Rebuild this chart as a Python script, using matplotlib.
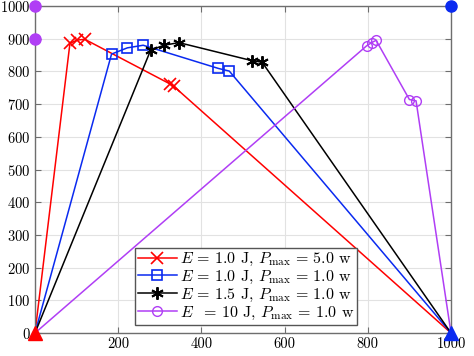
import numpy as np
import matplotlib
matplotlib.use('Agg')
import matplotlib.pyplot as plt

plt.rcParams['font.family'] = 'serif'
plt.rcParams['font.serif'] = ['cmr10']
plt.rcParams['mathtext.fontset'] = 'cm'
plt.rcParams['axes.unicode_minus'] = False
plt.rcParams['axes.formatter.use_mathtext'] = True

# series data
x_red = [0, 84, 102, 120, 324, 334, 1000]
y_red = [0, 886, 896, 898, 762, 754, 0]
x_blue = [0, 184, 222, 260, 441, 467, 1000]
y_blue = [0, 853, 872, 880, 809, 801, 0]
x_black = [0, 278, 310, 346, 521, 546, 1000]
y_black = [0, 865, 880, 888, 833, 828, 0]
x_mag = [0, 797, 809, 820, 900, 916, 1000]
y_mag = [0, 878, 888, 895, 714, 710, 0]

labels = [r'$E\,=\,1.0$ J, $P_{\max}\,=\,5.0$ w',
          r'$E\,=\,1.0$ J, $P_{\max}\,=\,1.0$ w',
          r'$E\,=\,1.5$ J, $P_{\max}\,=\,1.0$ w',
          r'$E\ \ =\,10$ J, $P_{\max}\,=\,1.0$ w']

# special points
mag_pts_x = [0, 0]
mag_pts_y = [1000, 900]
blue_pt = (1000, 1000)
red_tri = (0, 0)
blue_tri = (1000, 0)

c_red = '#ff0000'
c_blue = '#0a2af0'
c_black = 'black'
c_mag = '#b03ef5'

fig = plt.figure(figsize=(4.74, 3.56), dpi=100)
ax = fig.add_axes([35/474, 1 - 333/356, 416/474, 327/356])

n = len(x_red)
ax.plot(x_red, y_red, color=c_red, lw=1.1, marker='x', ms=8, mew=1.2,
        markevery=list(range(1, n - 1)), label=labels[0])
ax.plot(x_blue, y_blue, color=c_blue, lw=1.1, marker='s', ms=7, mfc='none', mew=1.2,
        markevery=list(range(1, n - 1)), label=labels[1])
ax.plot(x_black, y_black, color=c_black, lw=1.1, marker=(6, 2, 0), ms=9, mew=1.4,
        markevery=list(range(1, n - 1)), label=labels[2])
ax.plot(x_mag, y_mag, color=c_mag, lw=1.1, marker='o', ms=7, mfc='none', mew=1.0,
        markevery=list(range(1, n - 1)), label=labels[3])

ax.plot(mag_pts_x, mag_pts_y, 'o', color=c_mag, ms=8, clip_on=False, zorder=5)
ax.plot(*blue_pt, 'o', color=c_blue, ms=8, clip_on=False, zorder=5)
ax.plot(*red_tri, '^', color=c_red, ms=10, clip_on=False, zorder=5)
ax.plot(*blue_tri, '^', color=c_blue, ms=10, clip_on=False, zorder=5)

ax.set_xlim(0, 1000)
ax.set_ylim(0, 1000)
ax.set_xticks([0, 200, 400, 600, 800, 1000])
ax.set_xticklabels(['', '200', '400', '600', '800', '1000'])
ax.set_yticks(np.arange(0, 1001, 100))
ax.grid(True, color='#e2e2e2', lw=0.8)
ax.set_axisbelow(True)
for s in ax.spines.values():
    s.set_color('#6e6e6e')
    s.set_linewidth(1.0)
ax.tick_params(direction='in', top=True, right=True, length=4, color='#6e6e6e',
               labelsize=10.5, pad=3)

leg = ax.legend(loc='lower left', bbox_to_anchor=(100/416, 8/327), fontsize=11.5,
                frameon=True, fancybox=False, edgecolor='#555555', framealpha=1,
                handlelength=2.4, handletextpad=0.2, borderpad=0.2, labelspacing=0.05,
                borderaxespad=0)
leg.get_frame().set_linewidth(1.0)

fig.savefig('out.png', dpi=100)
